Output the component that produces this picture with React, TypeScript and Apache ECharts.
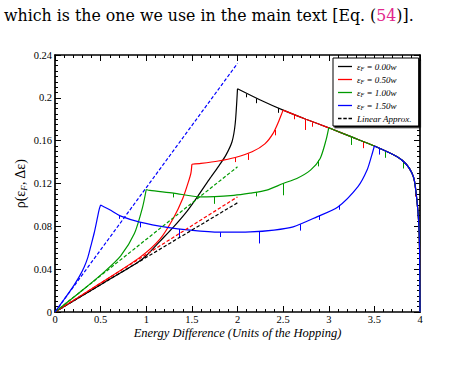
import React, { useEffect, useRef } from "react";
import * as echarts from "echarts";

// ---- data ----
const xTickLabels = ["0", "0.5", "1", "1.5", "2", "2.5", "3", "3.5", "4"];
const yTickLabels = ["0", "0.04", "0.08", "0.12", "0.16", "0.2", "0.24"];

const legendNames = ["e000", "e050", "e100", "e150", "lin"];
const legendValues = ["0.00w", "0.50w", "1.00w", "1.50w"];

// common falling branch (black peak to the band edge)
const tail: number[][] = [
  [2.0, 0.2085], [2.25, 0.198], [2.5, 0.1885], [2.75, 0.18], [3.0, 0.172], [3.25, 0.1635],
  [3.5, 0.155], [3.75, 0.145], [3.85, 0.138], [3.91, 0.13], [3.94, 0.122], [3.965, 0.105],
  [3.985, 0.085], [3.995, 0.06], [4.0, 0],
];
const tailStart = [2.0, 2.5, 3.0, 3.5]; // where each curve joins the falling branch

const blackRise: number[][] = [
  [0, 0], [0.5, 0.0255], [0.9, 0.046], [1.0, 0.0525], [1.15, 0.066], [1.3, 0.0795],
  [1.45, 0.0945], [1.58, 0.11], [1.7, 0.125], [1.8, 0.137], [1.87, 0.146], [1.94, 0.159],
  [1.975, 0.176], [2.0, 0.2085],
];
const redRise: number[][] = [
  [0, 0], [0.5, 0.027], [0.93, 0.051], [1.15, 0.068], [1.3, 0.088], [1.4, 0.106],
  [1.46, 0.121], [1.49, 0.13], [1.5, 0.138],
];
const redMid: number[][] = [
  [1.5, 0.138], [1.6, 0.1388], [1.79, 0.141], [1.975, 0.1443], [2.16, 0.1496], [2.3, 0.157],
  [2.39, 0.1668], [2.45, 0.1777], [2.486, 0.1855], [2.5, 0.1885],
];
const greenRise: number[][] = [
  [0, 0], [0.3, 0.0203], [0.54, 0.0375], [0.72, 0.0525], [0.87, 0.0733], [0.96, 0.098],
  [1.0, 0.1144],
];
const greenMid: number[][] = [
  [1.0, 0.1144], [1.04, 0.1135], [1.3, 0.111], [1.59, 0.1075], [1.96, 0.109], [2.14, 0.111],
  [2.32, 0.1138], [2.5, 0.12], [2.65, 0.1247], [2.8, 0.1325], [2.906, 0.1434], [2.97, 0.1605],
  [3.0, 0.172],
];
const blueRise: number[][] = [
  [0, 0], [0.1, 0.0118], [0.2, 0.024], [0.266, 0.033], [0.32, 0.042], [0.36, 0.051],
  [0.394, 0.062], [0.43, 0.074], [0.46, 0.086], [0.485, 0.096], [0.5, 0.1],
];
const blueMid: number[][] = [
  [0.5, 0.1], [0.6, 0.0955], [0.722, 0.0895], [0.93, 0.084], [1.23, 0.079], [1.48, 0.0764],
  [1.8, 0.0745], [2.14, 0.0748], [2.4, 0.0765], [2.61, 0.0795], [2.87, 0.0888], [3.1, 0.098],
  [3.32, 0.117], [3.42, 0.1325], [3.47, 0.146], [3.5, 0.155],
];

// linear approximations: end points from the origin
const blackLin: number[][] = [[0, 0], [2.0, 0.102]];
const redLin: number[][] = [[0, 0], [2.0, 0.1075]];
const greenLin: number[][] = [[0, 0], [2.0, 0.1356]];
const blueLin: number[][] = [[0, 0], [2.0, 0.2322]];

// downward spikes: [x, top, bottom]
const blackSpikes: number[][] = [[2.1, 0.2035, 0.2005], [2.21, 0.1995, 0.195], [2.45, 0.1905, 0.186]];
const redSpikes: number[][] = [
  [1.98, 0.1443, 0.14], [2.12, 0.148, 0.142], [2.41, 0.17, 0.165], [2.62, 0.184, 0.18],
  [2.74, 0.1795, 0.17], [2.82, 0.177, 0.173], [3.38, 0.159, 0.153], [3.95, 0.115, 0.108],
];
const greenSpikes: number[][] = [
  [1.3, 0.111, 0.107], [1.74, 0.108, 0.101], [2.2, 0.112, 0.108], [2.5, 0.12, 0.109],
  [2.89, 0.142, 0.136], [3.25, 0.1635, 0.156], [3.62, 0.15, 0.144], [3.82, 0.14, 0.134],
];
const blueSpikes: number[][] = [
  [0.7, 0.09, 0.087], [0.93, 0.084, 0.079], [1.365, 0.0775, 0.0696], [1.81, 0.0745, 0.07],
  [2.24, 0.0752, 0.064], [2.69, 0.082, 0.076], [2.9, 0.09, 0.086], [3.12, 0.1, 0.0955],
  [3.55, 0.153, 0.147],
];

const COLORS = { black: "#000000", red: "#ff0000", green: "#009a00", blue: "#0000ff" };
const SERIF = '"Liberation Serif", "DejaVu Serif", serif';
const SOLID_ICON = "path://M0,0H14V1.3H0Z";
const DASH_ICON = "path://M0,0H3.5V1.3H0Z M5.3,0H8.8V1.3H5.3Z M10.5,0H14V1.3H10.5Z";

function spikeSeries(spikes: number[][], color: string) {
  return {
    type: "lines",
    coordinateSystem: "cartesian2d",
    silent: true,
    lineStyle: { color, width: 1, opacity: 1 },
    data: spikes.map((s) => ({ coords: [[s[0], s[1]], [s[0], s[2]]] })),
    z: 3,
  };
}

function solid(name: string | undefined, data: number[][], color: string) {
  return {
    name,
    type: "line",
    data,
    symbol: "none",
    smooth: 0.25,
    lineStyle: { color, width: 1.2 },
    itemStyle: { color },
    z: 3,
  };
}

function dashed(name: string | undefined, data: number[][], color: string) {
  return {
    name,
    type: "line",
    data,
    symbol: "none",
    lineStyle: { color, width: 1.2, type: [3.5, 2] },
    itemStyle: { color },
    z: 4,
  };
}

export default function App() {
  const ref = useRef<HTMLDivElement>(null);
  useEffect(() => {
    if (!ref.current) return;
    const chart = echarts.init(ref.current, undefined, { renderer: "svg" });
    const legendRich = {
      e: { fontFamily: SERIF, fontStyle: "italic", fontSize: 9, lineHeight: 10, color: "#000" },
      s: { fontFamily: SERIF, fontStyle: "italic", fontSize: 6, lineHeight: 5, verticalAlign: "bottom", color: "#000" },
      t: { fontFamily: SERIF, fontStyle: "italic", fontSize: 9, lineHeight: 10, color: "#000" },
    };
    const axisCommon = {
      type: "value",
      axisLine: { show: true, onZero: false, lineStyle: { color: "#000", width: 1.7 } },
      axisTick: { show: true, inside: true, length: 6, lineStyle: { color: "#000", width: 1 } },
      minorTick: { show: true, length: 3, lineStyle: { color: "#000", width: 1 } },
      splitLine: { show: false },
      minorSplitLine: { show: false },
    };
    const tails = tailStart.map((s) => tail.filter((p) => p[0] >= s));
    const option = {
      animation: false,
      backgroundColor: "#fff",
      graphic: [
        {
          type: "text",
          left: 4,
          top: 7,
          style: {
            text: "{a|which is the one we use in the main text [Eq. (}{b|54}{a|)].}",
            rich: {
              a: { fontFamily: '"DejaVu Serif", serif', fontSize: 15.8, fill: "#000" },
              b: { fontFamily: '"DejaVu Serif", serif', fontSize: 15.8, fill: "#e2288c" },
            },
          },
        },
      ],
      grid: { left: 55, right: 54, top: 55, bottom: 54, containLabel: false },
      legend: {
        orient: "vertical",
        left: 333,
        top: 58,
        data: legendNames.map((n, i) => ({ name: n, icon: i < 4 ? SOLID_ICON : DASH_ICON })),
        itemWidth: 14,
        itemHeight: 1.3,
        itemGap: 3.5,
        padding: [4, 7, 3, 5],
        backgroundColor: "#fff",
        borderColor: "#000",
        borderWidth: 1,
        borderRadius: 0,
        shadowColor: "#000",
        shadowBlur: 0,
        shadowOffsetX: 1.5,
        shadowOffsetY: 1.5,
        textStyle: { fontFamily: SERIF, fontStyle: "italic", fontSize: 9, color: "#000", rich: legendRich },
        formatter: (name: string) => {
          const i = legendNames.indexOf(name);
          if (i < 4) return "{e|ε}{s|F}{t| = " + legendValues[i] + "}";
          return "{t|Linear Approx.}";
        },
      },
      xAxis: [
        {
          ...axisCommon,
          position: "bottom",
          min: 0,
          max: 4,
          interval: 0.5,
          minorTick: { ...axisCommon.minorTick, splitNumber: 5 },
          axisLabel: {
            color: "#000",
            fontFamily: SERIF,
            fontSize: 10.5,
            margin: 1.5,
            formatter: (v: number) => xTickLabels[Math.round(v / 0.5)],
          },
          name: "Energy Difference (Units of the Hopping)",
          nameLocation: "middle",
          nameGap: 14,
          nameMoveOverlap: false,
          nameTextStyle: { fontFamily: SERIF, fontStyle: "italic", fontSize: 12.5, color: "#000" },
        },
        {
          ...axisCommon,
          position: "top",
          min: 0,
          max: 4,
          interval: 0.5,
          minorTick: { ...axisCommon.minorTick, splitNumber: 5 },
          axisLabel: { show: false },
        },
      ],
      yAxis: [
        {
          ...axisCommon,
          position: "left",
          min: 0,
          max: 0.24,
          interval: 0.04,
          minorTick: { ...axisCommon.minorTick, splitNumber: 8 },
          axisLabel: {
            color: "#000",
            fontFamily: SERIF,
            fontSize: 10.5,
            margin: 3,
            formatter: (v: number) => yTickLabels[Math.round(v / 0.04)],
          },
          name: "{a|ρ(ε}{s|F}{a|, Δε)}",
          nameLocation: "middle",
          nameRotate: 90,
          nameGap: 27,
          nameMoveOverlap: false,
          nameTextStyle: {
            color: "#000",
            rich: {
              a: { fontFamily: SERIF, fontSize: 14, lineHeight: 16, color: "#000" },
              s: { fontFamily: SERIF, fontStyle: "italic", fontSize: 9, lineHeight: 9, verticalAlign: "bottom", color: "#000" },
            },
          },
        },
        {
          ...axisCommon,
          position: "right",
          min: 0,
          max: 0.24,
          interval: 0.04,
          minorTick: { ...axisCommon.minorTick, splitNumber: 8 },
          axisLabel: { show: false },
        },
      ],
      series: [
        solid("e000", blackRise, COLORS.black),
        solid(undefined, tails[0], COLORS.black),
        spikeSeries(blackSpikes, COLORS.black),
        solid("e050", redRise, COLORS.red),
        solid(undefined, redMid, COLORS.red),
        solid(undefined, tails[1], COLORS.red),
        spikeSeries(redSpikes, COLORS.red),
        solid("e100", greenRise, COLORS.green),
        solid(undefined, greenMid, COLORS.green),
        solid(undefined, tails[2], COLORS.green),
        spikeSeries(greenSpikes, COLORS.green),
        solid("e150", blueRise, COLORS.blue),
        solid(undefined, blueMid, COLORS.blue),
        solid(undefined, tails[3], COLORS.blue),
        spikeSeries(blueSpikes, COLORS.blue),
        dashed("lin", blackLin, COLORS.black),
        dashed(undefined, redLin, COLORS.red),
        dashed(undefined, greenLin, COLORS.green),
        dashed(undefined, blueLin, COLORS.blue),
      ],
    };
    chart.setOption(option as any);
    return () => chart.dispose();
  }, []);
  return (
    <div
      ref={ref}
      style={{ position: "fixed", left: 0, top: 0, width: 474, height: 366, background: "#fff" }}
    />
  );
}
